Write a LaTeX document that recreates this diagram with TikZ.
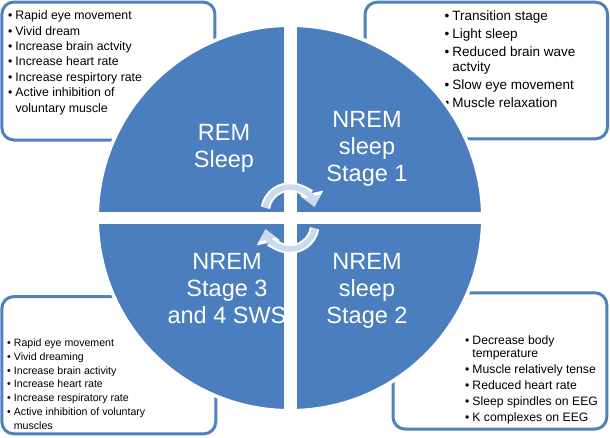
\documentclass[tikz,border=0pt]{standalone}
\usepackage{fontspec}
\setmainfont{Liberation Sans}
\usepackage{xcolor}
\usetikzlibrary{arrows.meta,positioning}
\definecolor{bxblue}{RGB}{79,129,189}
\definecolor{dkblue}{RGB}{74,126,190}
\definecolor{arfill}{RGB}{204,216,238}
\newcommand{\bul}{\textbullet\hspace{3pt}}
\newcommand{\ind}{\hphantom{\textbullet\hspace{3pt}}}

\begin{document}
\begin{tikzpicture}[x=1pt,y=-1pt,
 bx/.style={draw=bxblue,line width=3pt,rounded corners=12pt,fill=white,inner sep=0pt},
 lst/.style={anchor=north west,inner sep=0pt,align=left},
 lbl/.style={anchor=north,inner sep=0pt,align=center,text=white,font=\fontsize{23.5}{27}\selectfont},
 halo/.style={white,line width=9.5pt,-{Triangle[length=14pt,width=23pt]}},
 cyc/.style={arfill,line width=5.5pt,-{Triangle[length=10.5pt,width=17pt]}}]
\useasboundingbox (0,0) rectangle (610,437);
\node[bx,minimum width=213pt,minimum height=138pt] (tl) at (108.4,71) {};
\node[bx,minimum width=242.5pt,minimum height=136.6pt] (tr) at (486.3,70.5) {};
\node[bx,minimum width=214pt,minimum height=137.3pt] (bl) at (108.8,365.2) {};
\node[bx,minimum width=213.8pt,minimum height=136.3pt] (br) at (499.9,360.9) {};
\node[lst,font=\fontsize{12.3}{15.4}\selectfont] (tltx) at (8,10.5)
 {\bul Rapid eye movement\\ \bul Vivid dream\\ \bul Increase brain actvity\\ \bul Increase heart rate\\
  \bul Increase respirtory rate\\ \bul Active inhibition of\\ \ind voluntary muscle};
\node[lst,font=\fontsize{13.5}{15}\selectfont] (trtx) at (444.5,10.5)
 {\bul Transition stage\\[3pt] \bul Light sleep\\[3pt] \bul Reduced brain wave\\ \ind actvity\\[3pt]
  \bul Slow eye movement\\[3pt] \bul Muscle relaxation};
\node[lst,font=\fontsize{10.6}{13.7}\selectfont] (bltx) at (7,339)
 {\bul Rapid eye movement\\ \bul Vivid dreaming\\ \bul Increase brain activity\\ \bul Increase heart rate\\
  \bul Increase respiratory rate\\ \bul Active inhibition of voluntary\\ \ind muscles};
\node[lst,font=\fontsize{12.2}{13}\selectfont] (brtx) at (465,335)
 {\bul Decrease body\\ \ind temperature\\[3pt] \bul Muscle relatively tense\\[3pt] \bul Reduced heart rate\\[3pt]
  \bul Sleep spindles on EEG\\[3pt] \bul K complexes on EEG};
\node[circle,draw=white,line width=3.5pt,fill=dkblue,minimum size=385.5pt,inner sep=0pt] (cir) at (290,218) {};
\node[lbl] (rem) at (224,124) {REM\\Sleep};
\node[lbl] (st1) at (367,111) {NREM\\sleep\\Stage 1};
\node[lbl] (st34) at (227,253) {NREM\\Stage 3\\and 4 SWS};
\node[lbl] (st2) at (367,253) {NREM\\sleep\\Stage 2};
\fill[white] ([xshift=-6.5pt]cir.north) rectangle ([xshift=6.5pt]cir.south);
\fill[white] ([yshift=6pt]cir.west) rectangle ([yshift=-6pt]cir.east);
\coordinate (ua) at (290,212);
\coordinate (la) at (290,224);
\foreach \s in {halo,cyc}{
 \draw[\s] ([shift={(190:25)}]ua) arc[start angle=190,end angle=348,radius=25];
 \draw[\s] ([shift={(10:25)}]la) arc[start angle=10,end angle=168,radius=25];
}
\end{tikzpicture}
\end{document}
